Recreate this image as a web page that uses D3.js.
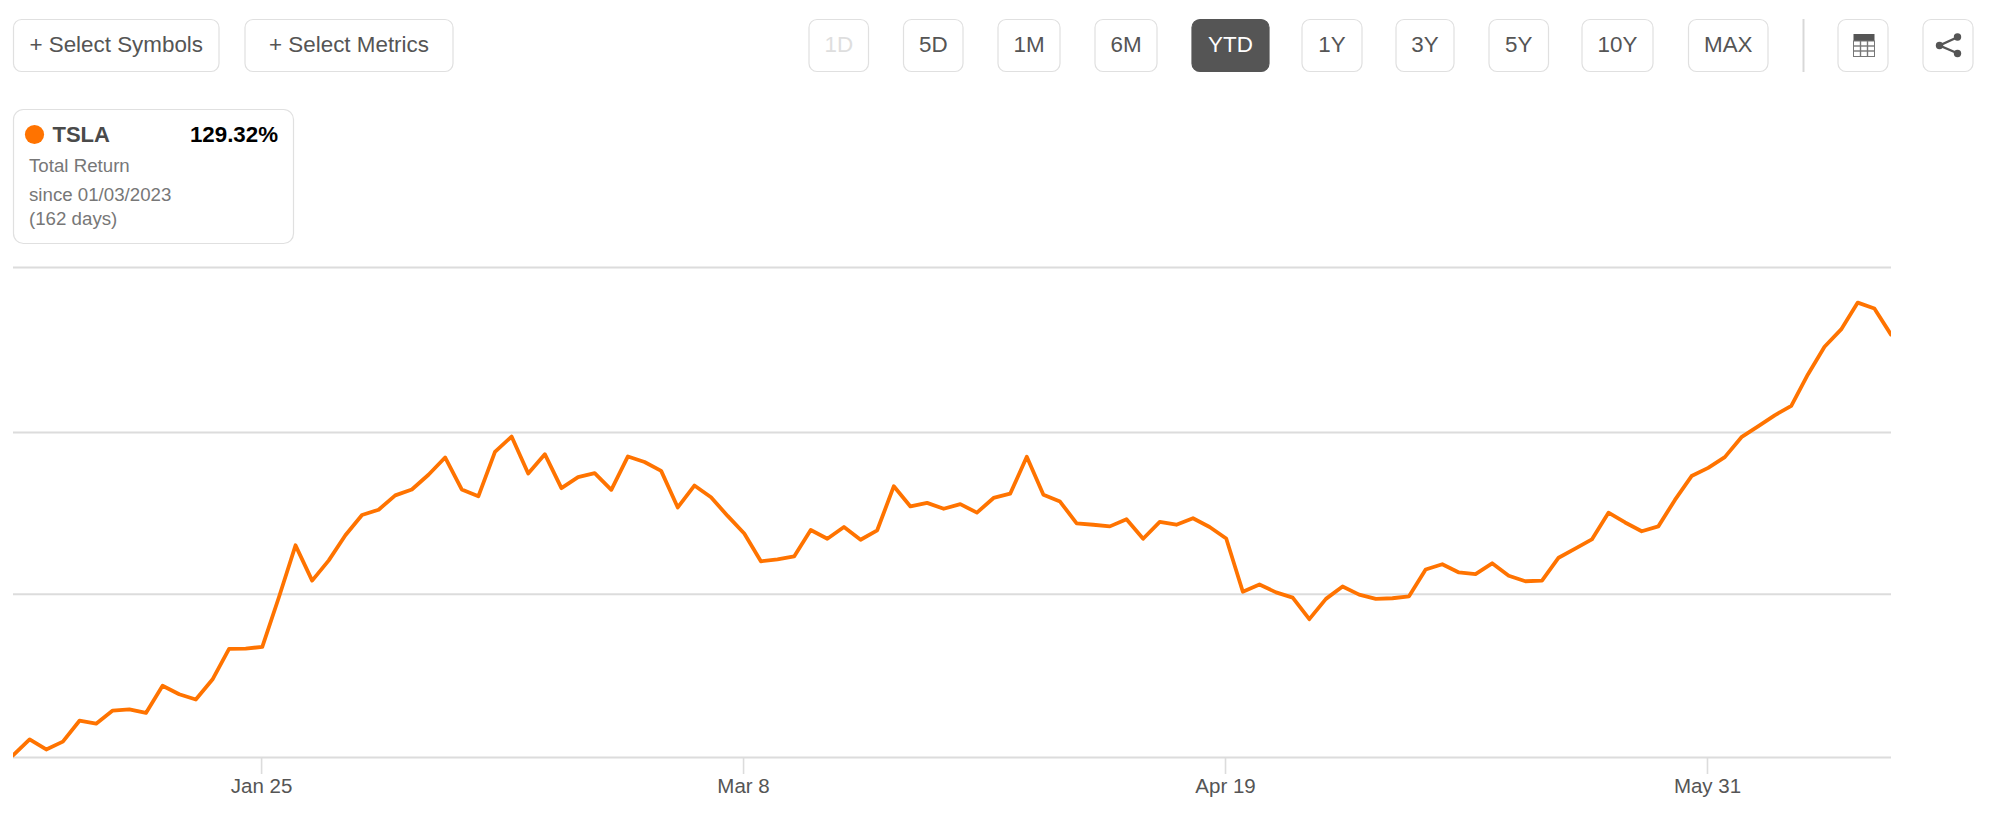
<!DOCTYPE html>
<html><head><meta charset="utf-8">
<script src="https://cdnjs.cloudflare.com/ajax/libs/d3/7.8.5/d3.min.js"></script>
<style>
html,body{margin:0;padding:0;background:#fff}
svg{display:block;font-family:"Liberation Sans",Arial,sans-serif}
</style></head><body>
<svg id="c" width="2006" height="829"></svg>
<script>
// ---- data ----
const symbol = "TSLA";
const totalReturn = "129.32%";
const returnLabel = "Total Return";
const sinceLabel = "since 01/03/2023";
const daysLabel = "(162 days)";
const tsla = [0.5,5.4,2.3,4.7,11.1,10.2,14.2,14.6,13.5,21.8,19.2,17.6,23.7,33.1,33.2,33.7,48.9,64.8,54.0,60.2,
67.9,74.1,75.7,80.1,81.9,86.4,91.7,81.9,79.8,93.4,98.1,86.8,92.7,82.3,85.7,86.9,81.8,92.0,90.3,87.6,
76.4,83.1,79.5,73.8,68.4,59.9,60.5,61.4,69.5,66.8,70.4,66.5,69.4,82.9,76.7,77.8,76.0,77.4,74.8,79.3,
80.6,91.9,80.3,78.2,71.5,71.1,70.6,72.8,66.8,72.0,71.1,73.1,70.4,66.9,50.6,52.8,50.4,48.8,42.2,48.4,
52.2,49.7,48.4,48.6,49.2,57.4,59.0,56.5,56.0,59.3,55.5,53.8,54.0,61.0,63.8,66.6,74.8,71.8,69.1,70.6,
78.7,86.0,88.5,91.8,97.9,101.2,104.6,107.5,117.1,125.6,130.9,139.1,137.3,129.3];
const gridValues = [0,50,99.5,150];
const xTickIndex = [15,44,73,102];
const xTickLabels = ["Jan 25","Mar 8","Apr 19","May 31"];
const leftButtons = ["+ Select Symbols","+ Select Metrics"];
const rangeButtons = ["1D","5D","1M","6M","YTD","1Y","3Y","5Y","10Y","MAX"];
const activeRange = "YTD";
const disabledRange = "1D";

// ---- layout ----
const leftBoxes = [[13.5,219],[245,453]];
const rangeBoxes = [[809,868.5],[903.5,963],[998,1060],[1095,1157],[1192,1269],[1302,1362],[1396,1454],[1489,1548.5],[1582,1653],[1688.5,1768]];
const iconBoxes = [[1838,1888],[1923,1973]];
const BTN_T = 19.5, BTN_H = 52;
const P = {left:13, right:1891, top:267, bottom:757};
const ORANGE = "#ff7300", GRID = "#dcdcdc", TXT = "#555", BORDER = "#e0e0e0";

const svg = d3.select("#c");
const x = d3.scaleLinear().domain([0, tsla.length-1]).range([P.left, P.right]);
const y = d3.scaleLinear().domain([0,150]).range([P.bottom, P.top]);

// buttons
function button(g, box, label, opts={}){
  const b = g.append("g");
  b.append("rect").attr("x",box[0]).attr("y",BTN_T).attr("width",box[1]-box[0]).attr("height",BTN_H)
    .attr("rx",8).attr("fill",opts.active?"#555":"#fff").attr("stroke",opts.active?"#555":BORDER).attr("stroke-width",1.2);
  if(label) b.append("text").attr("x",(box[0]+box[1])/2).attr("y",BTN_T+BTN_H/2+6.4)
    .attr("text-anchor","middle").attr("font-size",22.4)
    .attr("fill",opts.active?"#fff":opts.disabled?"#dedede":TXT).text(label);
}
const ui = svg.append("g");
leftButtons.forEach((l,i)=>button(ui,leftBoxes[i],l));
rangeButtons.forEach((l,i)=>button(ui,rangeBoxes[i],l,{active:l===activeRange,disabled:l===disabledRange}));
ui.append("line").attr("x1",1803.5).attr("x2",1803.5).attr("y1",19).attr("y2",72).attr("stroke","#d8d8d8").attr("stroke-width",2);
iconBoxes.forEach(b=>button(ui,b,""));

// table icon
const ti = ui.append("g").attr("transform","translate(1853.5,34)");
ti.append("rect").attr("width",21).attr("height",7).attr("fill","#555");
ti.append("rect").attr("y",7).attr("width",21).attr("height",15.5).attr("fill","#fff").attr("stroke","#777").attr("stroke-width",1);
[7,14].forEach(d=>ti.append("line").attr("x1",d).attr("x2",d).attr("y1",7).attr("y2",22).attr("stroke","#777").attr("stroke-width",1.4));
[12,17].forEach(d=>ti.append("line").attr("x1",0).attr("x2",21).attr("y1",d).attr("y2",d).attr("stroke","#777").attr("stroke-width",1.4));
// share icon
const si = ui.append("g").attr("transform","translate(1935,33)").attr("fill","#555").attr("stroke","#555");
si.append("path").attr("d","M23 4 L4.5 12.5 L23 20.5").attr("fill","none").attr("stroke-width",2.4);
[[22.5,4],[4.5,12.5],[22.5,20.5]].forEach(c=>si.append("circle").attr("cx",c[0]).attr("cy",c[1]).attr("r",3.7).attr("stroke","none"));

// legend card
const card = svg.append("g");
card.append("rect").attr("x",13.5).attr("y",109.5).attr("width",280).attr("height",134).attr("rx",10)
  .attr("fill","#fff").attr("stroke",BORDER).attr("stroke-width",1.2);
card.append("circle").attr("cx",34.5).attr("cy",134.5).attr("r",9.6).attr("fill",ORANGE);
card.append("text").attr("x",52.5).attr("y",142).attr("font-size",22).attr("font-weight","bold").attr("fill","#4a4a4a").text(symbol);
card.append("text").attr("x",278).attr("y",142).attr("text-anchor","end").attr("font-size",22.3).attr("font-weight","bold").attr("fill","#000").text(totalReturn);
[[returnLabel,171.5],[sinceLabel,201],[daysLabel,225]].forEach(d=>
  card.append("text").attr("x",29).attr("y",d[1]).attr("font-size",18.7).attr("fill","#777").text(d[0]));

// gridlines
const gridAxis = d3.axisLeft(y).tickValues(gridValues).tickSize(-(P.right-P.left)).tickFormat("");
const gg = svg.append("g").attr("transform",`translate(${P.left},0)`).call(gridAxis);
gg.select(".domain").remove();
gg.selectAll("line").attr("stroke",GRID).attr("stroke-width",2);

// x axis
const xAxis = d3.axisBottom(x).tickValues(xTickIndex).tickSize(17).tickPadding(4)
  .tickFormat((d,i)=>xTickLabels[i]);
const ga = svg.append("g").attr("transform",`translate(-1.2,${P.bottom})`).call(xAxis);
ga.select(".domain").remove();
ga.selectAll("line").attr("stroke",GRID).attr("stroke-width",1.6);
ga.selectAll("text").attr("font-size",20.5).attr("font-family","'Liberation Sans',Arial,sans-serif").attr("fill",TXT);

// line
svg.append("clipPath").attr("id","plot").append("rect")
  .attr("x",P.left).attr("y",P.top-10).attr("width",P.right-P.left).attr("height",P.bottom-P.top+20);
const line = d3.line().x((d,i)=>x(i)).y(d=>y(d));
svg.append("path").datum(tsla).attr("d",line).attr("fill","none").attr("stroke",ORANGE)
  .attr("stroke-width",3.8).attr("stroke-linejoin","round").attr("stroke-linecap","round").attr("clip-path","url(#plot)");
</script>
</body></html>
